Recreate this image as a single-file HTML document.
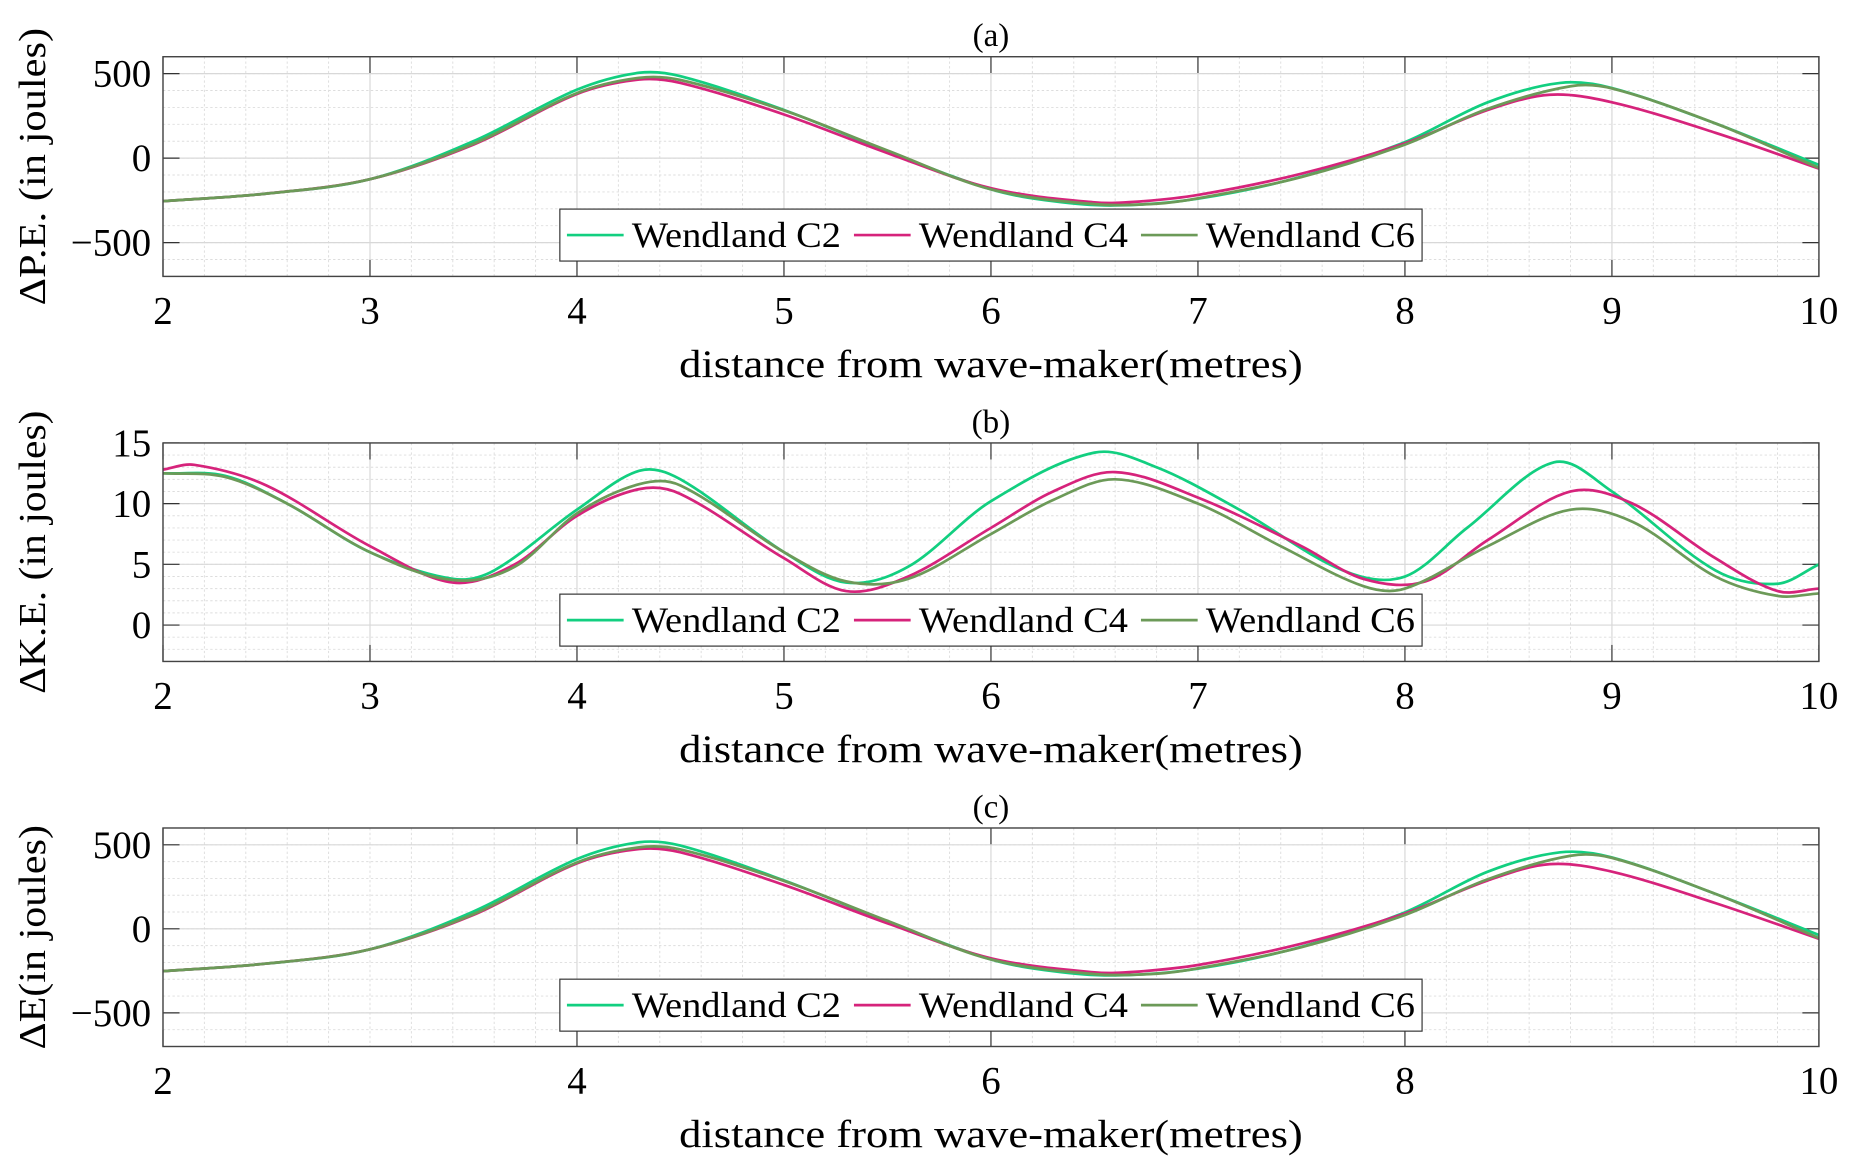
<!DOCTYPE html>
<html><head><meta charset="utf-8"><style>html,body{margin:0;padding:0;background:#fff}svg{display:block}svg text{font-family:"Liberation Serif","DejaVu Serif",serif}</style></head>
<body>
<svg id="s" width="1852" height="1167" viewBox="0 0 1568 988" xmlns="http://www.w3.org/2000/svg"></svg>
<script>
const S=document.getElementById('s');let h='';
const X0=138,X1=1540;
const col=['#12cf80','#d6237b','#6c9a58'];
function sx(x){return X0+(x-2)/8*(X1-X0);}
function path(pts,fy){
 const p=pts.map(a=>[sx(a[0]),fy(a[1])]);let d='M'+p[0][0].toFixed(1)+','+p[0][1].toFixed(1);
 for(let i=0;i<p.length-1;i++){const a=p[i-1]||p[i],b=p[i],c=p[i+1],e=p[i+2]||c;
  const k=(c[0]-b[0]);
  const t1=(c[1]-a[1])/(c[0]-a[0]||1),t2=(e[1]-b[1])/(e[0]-b[0]||1);
  const c1=[b[0]+k/3,b[1]+t1*k/3],c2=[c[0]-k/3,c[1]-t2*k/3];
  d+=`C${c1[0].toFixed(1)},${c1[1].toFixed(1)} ${c2[0].toFixed(1)},${c2[1].toFixed(1)} ${c[0].toFixed(1)},${c[1].toFixed(1)}`;}
 return d;}
function panel(o){
 const {t,b,ymin,ymax,ytk,ymin_step,xstep,title,ylab,ylen,data,leg}=o;
 const fy=v=>b-(v-ymin)/(ymax-ymin)*(b-t);
 h+=`<rect x="${X0}" y="${t}" width="${X1-X0}" height="${b-t}" fill="#fff"/>`;
 for(let x=2;x<=10.001;x+=0.2){const X=sx(x);h+=`<line x1="${X}" y1="${t}" x2="${X}" y2="${b}" stroke="#ddd" stroke-width="0.8" stroke-dasharray="2,2"/>`;}
 for(let v=Math.ceil(ymin/ymin_step)*ymin_step;v<=ymax;v+=ymin_step){const Y=fy(v);h+=`<line x1="${X0}" y1="${Y}" x2="${X1}" y2="${Y}" stroke="#ddd" stroke-width="0.8" stroke-dasharray="2,2"/>`;}
 for(let x=2;x<=10.001;x+=xstep){const X=sx(x);h+=`<line x1="${X}" y1="${t}" x2="${X}" y2="${b}" stroke="#d8d8d8" stroke-width="1"/><line x1="${X}" y1="${b}" x2="${X}" y2="${b-14}" stroke="#333"/><line x1="${X}" y1="${t}" x2="${X}" y2="${t+14}" stroke="#333"/><text x="${X}" y="${b+40}" font-size="33" text-anchor="middle">${Math.round(x)}</text>`;}
 ytk.forEach(v=>{const Y=fy(v);h+=`<line x1="${X0}" y1="${Y}" x2="${X1}" y2="${Y}" stroke="#d8d8d8"/><line x1="${X0}" y1="${Y}" x2="${X0+14}" y2="${Y}" stroke="#333"/><line x1="${X1}" y1="${Y}" x2="${X1-14}" y2="${Y}" stroke="#333"/><text x="${X0-10}" y="${Y+11}" font-size="33" text-anchor="end">${v<0?'−'+(-v):v}</text>`;});
 data.forEach((d,i)=>{h+=`<path d="${path(d,fy)}" fill="none" stroke="${col[i]}" stroke-width="2.3"/>`;});
 h+=`<rect x="${X0}" y="${t}" width="${X1-X0}" height="${b-t}" fill="none" stroke="#444" stroke-width="1.2"/>`;
 h+=`<text x="839" y="${t-9}" font-size="28" text-anchor="middle">${title}</text>`;
 h+=`<text x="575" y="${b+85}" font-size="33" textLength="528" lengthAdjust="spacingAndGlyphs">distance from wave-maker(metres)</text>`;
 h+=`<text transform="translate(38,${(t+b)/2}) rotate(-90)" font-size="32" text-anchor="middle" textLength="${ylen}" lengthAdjust="spacingAndGlyphs">${ylab}</text>`;
 h+=`<rect x="474" y="${leg}" width="730" height="44" fill="#fff" stroke="#333" stroke-width="1"/>`;
 ['Wendland C2','Wendland C4','Wendland C6'].forEach((s,i)=>{const lx=480+i*243;h+=`<line x1="${lx}" y1="${leg+22}" x2="${lx+48}" y2="${leg+22}" stroke="${col[i]}" stroke-width="2.3"/><text x="${lx+55}" y="${leg+32}" font-size="30" textLength="177" lengthAdjust="spacingAndGlyphs">${s}</text>`;});
}
const pe=[
[[2,-255],[2.5,-210],[3,-125],[3.5,100],[4,405],[4.3,505],[4.5,485],[5,285],[5.5,40],[6,-185],[6.3,-255],[6.6,-280],[7,-240],[7.5,-110],[8,95],[8.4,330],[8.75,445],[9,415],[9.5,205],[10,-40]],
[[2,-255],[2.5,-210],[3,-125],[3.5,80],[4,380],[4.3,465],[4.5,445],[5,258],[5.5,30],[6,-178],[6.5,-262],[6.7,-258],[7,-218],[7.5,-92],[8,88],[8.4,285],[8.7,375],[9,330],[9.5,150],[10,-62]],
[[2,-255],[2.5,-210],[3,-125],[3.5,85],[4,385],[4.3,475],[4.5,462],[5,282],[5.5,45],[6,-185],[6.5,-272],[6.8,-270],[7,-238],[7.5,-112],[8,80],[8.4,292],[8.8,425],[9,412],[9.5,205],[10,-58]]];
const ke=[
[[2,12.5],[2.3,12.3],[2.6,10],[3,6],[3.4,3.8],[3.6,4.5],[4,9.5],[4.3,12.7],[4.5,12],[5,6],[5.3,3.5],[5.6,4.8],[6,10.2],[6.5,14.2],[6.8,13],[7.2,9.5],[7.7,4.5],[8,4],[8.3,8],[8.72,13.4],[9,11],[9.5,4.5],[9.8,3.4],[10,5]],
[[2,12.8],[2.15,13.2],[2.5,11.5],[3,6.5],[3.4,3.5],[3.7,5],[4,9],[4.3,11.2],[4.5,10.8],[5,5.5],[5.3,2.8],[5.6,4],[6,8],[6.3,11],[6.6,12.6],[7,10.5],[7.5,6.5],[7.8,3.8],[8.1,3.6],[8.4,7],[8.8,11],[9.1,10],[9.5,5.5],[9.8,2.8],[10,3]],
[[2,12.5],[2.3,12.2],[2.6,10],[3,6],[3.4,3.7],[3.7,4.8],[4,9.2],[4.3,11.6],[4.5,11.5],[5,6],[5.3,3.6],[5.6,3.8],[6,7.5],[6.3,10.3],[6.6,12],[7,10],[7.4,6.5],[7.8,3.2],[8,3],[8.4,6.5],[8.8,9.5],[9.1,8.5],[9.5,4],[9.8,2.4],[10,2.6]]];
const e=pe.map((s,i)=>s.map(p=>[p[0],p[1]+(p[1]>300?10:3)]));
panel({t:48,b:234,ymin:-700,ymax:600,ytk:[500,0,-500],ymin_step:100,xstep:1,title:'(a)',ylab:'ΔP.E. (in joules)',ylen:235,data:pe,leg:177});
panel({t:375,b:560,ymin:-3,ymax:15,ytk:[15,10,5,0],ymin_step:1,xstep:1,title:'(b)',ylab:'ΔK.E. (in joules)',ylen:240,data:ke,leg:503});
panel({t:701,b:886,ymin:-700,ymax:600,ytk:[500,0,-500],ymin_step:100,xstep:2,title:'(c)',ylab:'ΔE(in joules)',ylen:190,data:e,leg:829});
S.innerHTML=h;
</script>
</body></html>
